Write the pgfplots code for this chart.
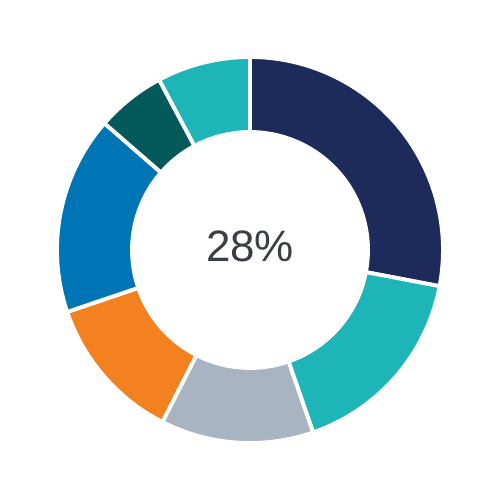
\documentclass[border=0pt]{standalone}
\usepackage{pgfplots}
\usepackage{pgfplotstable}
\pgfplotsset{compat=1.18}
\usepackage{fontspec}
\setmainfont{Liberation Sans}

\definecolor{cNavy}{HTML}{1C2B5A}
\definecolor{cTeal}{HTML}{1DB5B8}
\definecolor{cGray}{HTML}{A9B4C2}
\definecolor{cOrange}{HTML}{F38120}
\definecolor{cBlue}{HTML}{0075B5}
\definecolor{cDark}{HTML}{045A5A}
\definecolor{cText}{HTML}{3B3E44}

% share of each segment, clockwise from 12 o'clock
\pgfplotstableread{
value colour
28.0  cNavy
16.7  cTeal
12.8  cGray
12.3  cOrange
16.6  cBlue
5.8   cDark
7.8   cTeal
}\donutdata

\begin{document}
\begin{tikzpicture}
\begin{axis}[
    x=1cm, y=1cm,
    xmin=-5, xmax=5, ymin=-5, ymax=5,
    hide axis,
    clip=false,
]
\path (axis cs:-5,-5) rectangle (axis cs:5,5);
\pgfplotstablegetrowsof{\donutdata}
\pgfmathtruncatemacro{\lastrow}{\pgfplotsretval-1}
\def\rin{2.36}
\def\rout{3.86}
\gdef\startang{90}
\pgfplotsforeachungrouped \i in {0,...,\lastrow}{%
    \pgfplotstablegetelem{\i}{value}\of{\donutdata}
    \let\val=\pgfplotsretval
    \pgfplotstablegetelem{\i}{colour}\of{\donutdata}
    \let\col=\pgfplotsretval
    \pgfmathsetmacro{\endang}{\startang-3.6*\val}
    \pgfmathsetmacro{\ax}{\rout*cos(\startang)}
    \pgfmathsetmacro{\ay}{\rout*sin(\startang)}
    \pgfmathsetmacro{\bx}{\rin*cos(\endang)}
    \pgfmathsetmacro{\by}{\rin*sin(\endang)}
    \edef\temp{\noexpand\filldraw[fill=\col, draw=white, line width=2.2pt]
        (axis cs:\ax,\ay) arc[start angle=\startang, end angle=\endang, radius=\rout cm]
        -- (axis cs:\bx,\by) arc[start angle=\endang, end angle=\startang, radius=\rin cm] -- cycle;}
    \temp
    \xdef\startang{\endang}
}
\node[text=cText, font=\fontsize{25}{30}\selectfont] at (axis cs:0,0.07) {28\%};
\end{axis}
\end{tikzpicture}
\end{document}
